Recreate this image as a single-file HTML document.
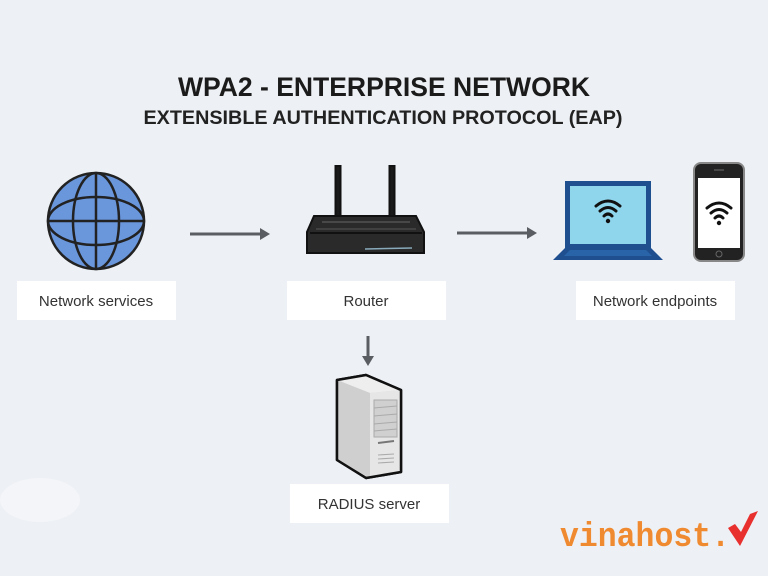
<!DOCTYPE html>
<html><head><meta charset="utf-8"><style>
html,body{margin:0;padding:0;background:#edf0f4;}
svg{display:block}
</style></head><body>
<svg width="768" height="576" viewBox="0 0 768 576" xmlns="http://www.w3.org/2000/svg">
<rect width="768" height="576" fill="#edf0f4"/>
<ellipse cx="40" cy="500" rx="40" ry="22" fill="#f3f5f8"/>
<text x="384" y="96" text-anchor="middle" font-family="Liberation Sans, sans-serif" font-weight="bold" font-size="27" fill="#1b1b1b" textLength="412" lengthAdjust="spacingAndGlyphs">WPA2 - ENTERPRISE NETWORK</text>
<text x="383" y="124" text-anchor="middle" font-family="Liberation Sans, sans-serif" font-weight="bold" font-size="19" fill="#222" textLength="479" lengthAdjust="spacingAndGlyphs">EXTENSIBLE AUTHENTICATION PROTOCOL (EAP)</text>

<!-- globe -->
<g stroke="#222" stroke-width="2.5" fill="none">
<circle cx="96" cy="221" r="48" fill="#6a96dc"/>
<ellipse cx="96" cy="221" rx="23" ry="48"/>
<ellipse cx="96" cy="221" rx="48" ry="24"/>
<line x1="96" y1="173" x2="96" y2="269"/>
<line x1="48" y1="221" x2="144" y2="221"/>
</g>

<!-- arrows -->
<g stroke="#5a5e62" stroke-width="3" fill="#5a5e62">
<line x1="190" y1="234" x2="262" y2="234"/>
<polygon points="260,228 270,234 260,240" stroke="none"/>
<line x1="457" y1="233" x2="529" y2="233"/>
<polygon points="527,227 537,233 527,239" stroke="none"/>
<line x1="368" y1="336" x2="368" y2="358"/>
<polygon points="362,356 368,366 374,356" stroke="none"/>
</g>

<!-- router -->
<g stroke="#111" stroke-width="2">
<rect x="335.5" y="166" width="5" height="52" fill="#1a1a1a"/>
<rect x="389.5" y="166" width="5" height="52" fill="#1a1a1a"/>
<polygon points="314,216 416,216 424,232 424,253 307,253 307,232" fill="#2a2a2a"/>
</g>
<line x1="310" y1="233" x2="422" y2="233" stroke="#111" stroke-width="2"/>
<line x1="322" y1="222" x2="410" y2="222" stroke="#666" stroke-width="1"/>
<line x1="316" y1="229" x2="416" y2="229" stroke="#555" stroke-width="1"/>
<line x1="365" y1="249" x2="412" y2="248" stroke="#8ab" stroke-width="1.5"/>

<!-- laptop -->
<rect x="565" y="181" width="86" height="67" fill="#1f4f8f"/>
<rect x="570" y="186" width="76" height="58" fill="#8fd6ec"/>
<polygon points="565,248 651,248 663,260 553,260" fill="#1f4f8f"/>
<polygon points="570,250 646,250 652,256 564,256" fill="#2a64a8"/>
<g fill="none" stroke="#111" stroke-width="3" stroke-linecap="round">
<path d="M596,206 Q608,196 620,206"/>
<path d="M600,211 Q608,204 616,211"/>
<path d="M604,216 Q608,212 612,216"/>
</g>
<circle cx="608" cy="221" r="2.2" fill="#111"/>

<!-- phone -->
<rect x="694" y="163" width="50" height="98" rx="7" fill="#222" stroke="#888" stroke-width="2"/>
<rect x="698" y="178" width="42" height="70" fill="#fff"/>
<line x1="714" y1="170" x2="724" y2="170" stroke="#555" stroke-width="1.5"/>
<circle cx="719" cy="254" r="3" fill="none" stroke="#666" stroke-width="1"/>
<g fill="none" stroke="#111" stroke-width="3" stroke-linecap="round">
<path d="M707,208 Q719,198 731,208"/>
<path d="M711,213 Q719,206 727,213"/>
<path d="M715,218 Q719,214 723,218"/>
</g>
<circle cx="719" cy="223" r="2.2" fill="#111"/>

<!-- server -->
<polygon points="337,380 366,375 401,390 401,472 366,478 337,460" fill="#d8d8d8" stroke="#111" stroke-width="2.5" stroke-linejoin="round"/>
<polygon points="337,380 366,375 401,390 370,393" fill="#eee"/>
<polygon points="337,380 370,393 370,478 337,460" fill="#cfcfcf"/>
<polygon points="370,393 401,390 401,472 370,478" fill="#e6e6e6"/>
<polygon points="337,380 366,375 401,390 401,472 366,478 337,460" fill="none" stroke="#111" stroke-width="2.5" stroke-linejoin="round"/>
<g stroke="#aaa" stroke-width="1">
<rect x="374" y="400" width="23" height="37" fill="#d0d0d0"/>
<line x1="374" y1="408" x2="397" y2="406"/><line x1="374" y1="416" x2="397" y2="414"/><line x1="374" y1="424" x2="397" y2="422"/><line x1="374" y1="431" x2="397" y2="429"/>
<line x1="378" y1="455" x2="394" y2="454"/><line x1="378" y1="459" x2="394" y2="458"/><line x1="378" y1="463" x2="394" y2="462"/>
</g>
<line x1="378" y1="443" x2="394" y2="441" stroke="#777" stroke-width="2"/>

<!-- labels -->
<g fill="#fff">
<rect x="17" y="281" width="159" height="39"/>
<rect x="287" y="281" width="159" height="39"/>
<rect x="576" y="281" width="159" height="39"/>
<rect x="290" y="484" width="159" height="39"/>
</g>
<g font-family="Liberation Sans, sans-serif" font-size="15" fill="#333" text-anchor="middle">
<text x="96" y="306">Network services</text>
<text x="366" y="306">Router</text>
<text x="655" y="306">Network endpoints</text>
<text x="369" y="509">RADIUS server</text>
</g>

<!-- logo -->
<text x="560" y="546" font-family="Liberation Mono, monospace" font-weight="bold" font-size="34" fill="#f08a30" textLength="170" lengthAdjust="spacingAndGlyphs">vinahost.</text>
<path d="M728,528 L740,546 L758,511 L750,514 L741,532 L735,524 Z" fill="#e8302e"/>
</svg>
</body></html>
